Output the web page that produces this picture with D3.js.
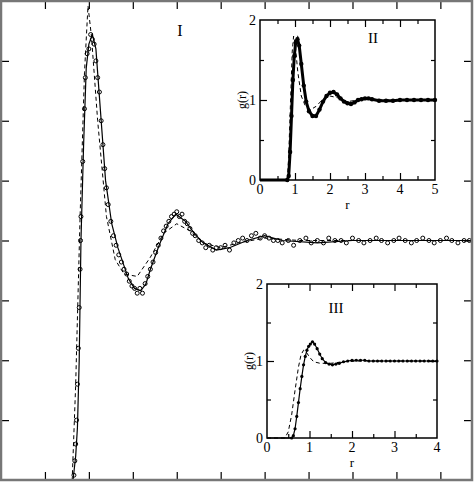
<!DOCTYPE html>
<html><head><meta charset="utf-8">
<script src="https://cdn.jsdelivr.net/npm/d3@7"></script>
<style>body{margin:0;background:#fff}svg{display:block}text{font-family:"Liberation Serif",serif;fill:#000}</style>
</head><body><svg id="c" width="474" height="482"></svg>
<script>
// ---- Main panel (I) ----
const mainSolid = [[0,0],[0.82,0],[0.85,0.1],[0.87,0.22],[0.89,0.5],[0.91,1.0],[0.94,1.4],[0.97,1.72],[1.0,1.82],[1.04,1.86],[1.08,1.8],[1.13,1.55],[1.19,1.25],[1.26,1.07],[1.33,0.97],[1.45,0.84],[1.52,0.8],[1.59,0.79],[1.65,0.82],[1.7,0.88],[1.8,0.98],[1.9,1.07],[1.99,1.11],[2.1,1.08],[2.2,1.03],[2.3,0.99],[2.45,0.96],[2.6,0.97],[2.8,1.0],[3.0,1.02],[3.2,1.0],[3.6,0.99],[4.0,1.0],[4.5,1.0],[5.36,1.0]];
const mainDashed = [[0,0],[0.81,0],[0.85,0.4],[0.9,1.1],[0.95,1.7],[0.99,1.98],[1.03,1.85],[1.1,1.5],[1.2,1.1],[1.3,0.92],[1.4,0.86],[1.55,0.85],[1.7,0.93],[1.85,1.03],[2.0,1.07],[2.15,1.04],[2.3,0.99],[2.5,0.97],[2.7,0.99],[3.0,1.01],[3.4,1.0],[5.36,1.0]];
const mainCircles = [[0.83,0.02],[0.84,0.08],[0.85,0.15],[0.86,0.25],[0.87,0.4],[0.88,0.55],[0.89,0.72],[0.9,0.88],[0.905,1.0],[0.91,1.1],[0.93,1.33],[0.95,1.55],[0.96,1.68],[0.98,1.78],[1.0,1.8],[1.02,1.86],[1.04,1.84],[1.06,1.82],[1.08,1.75],[1.1,1.68],[1.12,1.62],[1.14,1.5],[1.16,1.4],[1.18,1.3],[1.2,1.22],[1.22,1.15],[1.25,1.08],[1.28,1.02],[1.31,0.98],[1.34,0.94],[1.37,0.91],[1.4,0.88],[1.43,0.86],[1.46,0.83],[1.49,0.81],[1.52,0.8],[1.55,0.78],[1.58,0.8],[1.61,0.78],[1.64,0.82],[1.67,0.85],[1.7,0.88],[1.73,0.91],[1.76,0.95],[1.79,0.98],[1.82,1.01],[1.85,1.04],[1.88,1.06],[1.91,1.08],[1.94,1.1],[1.97,1.11],[2.0,1.12],[2.03,1.1],[2.06,1.11],[2.09,1.08],[2.12,1.07],[2.15,1.05],[2.18,1.03],[2.21,1.02],[2.25,1.0],[2.29,0.99],[2.33,0.97],[2.37,0.98],[2.41,0.96],[2.45,0.97],[2.5,0.97],[2.55,0.98],[2.6,0.96],[2.65,0.99],[2.7,1.0],[2.75,1.01],[2.8,1.0],[2.85,1.02],[2.9,1.03],[2.95,1.01],[3.0,1.02],[3.05,1.01],[3.1,1.0],[3.15,1.0],[3.2,0.99],[3.27,1.0],[3.33,0.98],[3.4,1.0],[3.47,1.01],[3.53,0.99],[3.6,1.0],[3.67,0.99],[3.73,1.01],[3.8,1.0],[3.87,1.0],[3.93,0.99],[4.0,1.01],[4.07,1.0],[4.13,0.99],[4.2,1.0],[4.27,1.01],[4.33,1.0],[4.4,0.99],[4.47,1.0],[4.53,1.01],[4.6,1.0],[4.67,0.99],[4.73,1.0],[4.8,1.01],[4.87,1.0],[4.93,0.99],[5.0,1.0],[5.07,1.01],[5.13,1.0],[5.2,0.99],[5.27,1.0],[5.33,1.0]];
// ---- Inset II ----
const iiSolid = [[0,0],[0.78,0],[0.82,0.05],[0.86,0.35],[0.9,0.8],[0.94,1.25],[0.98,1.55],[1.02,1.72],[1.07,1.76],[1.12,1.68],[1.18,1.45],[1.25,1.18],[1.32,0.98],[1.4,0.86],[1.5,0.8],[1.6,0.8],[1.7,0.88],[1.8,0.98],[1.9,1.05],[2.0,1.09],[2.1,1.1],[2.2,1.07],[2.3,1.02],[2.4,0.98],[2.5,0.96],[2.6,0.95],[2.7,0.97],[2.8,1.0],[2.9,1.01],[3.0,1.02],[3.1,1.02],[3.2,1.01],[3.4,0.99],[3.6,0.99],[3.8,0.99],[4.0,1.0],[4.2,1.0],[4.4,1.0],[4.6,1.0],[4.8,1.0],[5.0,1.0]];
const iiDashed = [[0,0],[0.78,0],[0.82,0.3],[0.87,0.95],[0.92,1.6],[0.96,1.8],[1.0,1.72],[1.08,1.35],[1.18,1.05],[1.3,0.92],[1.45,0.88],[1.6,0.92],[1.8,1.01],[2.0,1.05],[2.2,1.03],[2.5,0.98],[2.8,1.0],[3.2,1.01],[4.0,1.0],[5.0,1.0]];
// ---- Inset III ----
const iiiSolid = [[0,0],[0.58,0],[0.62,0.03],[0.66,0.12],[0.7,0.28],[0.74,0.46],[0.78,0.64],[0.82,0.8],[0.86,0.95],[0.9,1.06],[0.94,1.14],[0.98,1.19],[1.02,1.22],[1.07,1.25],[1.12,1.22],[1.18,1.16],[1.24,1.09],[1.3,1.03],[1.38,0.98],[1.46,0.96],[1.54,0.95],[1.62,0.96],[1.7,0.97],[1.8,0.99],[1.9,1.0],[2.0,1.01],[2.1,1.01],[2.2,1.01],[2.3,1.01],[2.4,1.0],[2.5,1.0],[2.6,1.0],[2.7,1.0],[2.8,1.0],[2.9,1.0],[3.0,1.0],[3.1,1.0],[3.2,1.0],[3.3,1.0],[3.4,1.0],[3.5,1.0],[3.6,1.0],[3.7,1.0],[3.8,1.0],[3.9,1.0],[4.0,1.0]];
const iiiDashed = [[0,0],[0.42,0],[0.5,0.08],[0.58,0.3],[0.66,0.62],[0.74,0.92],[0.8,1.08],[0.86,1.14],[0.92,1.12],[1.0,1.05],[1.1,0.99],[1.25,0.97],[1.5,0.97],[1.8,0.99],[2.2,1.0],[4.0,1.0]];
const labels = {main:"I", ii:"II", iii:"III", x:"r", y:"g(r)"};

const svg = d3.select("#c");
const line = (x,y)=>d3.line().x(d=>x(d[0])).y(d=>y(d[1]));

// Main panel
const mx = d3.scaleLinear().domain([0,5.36]).range([1,472]);
const my = d3.scaleLinear().domain([0,2]).range([480,1]);
const mg = svg.append("g");
mg.append("path").datum(mainDashed).attr("d",line(mx,my)).attr("fill","none").attr("stroke","#000").attr("stroke-width",1).attr("stroke-dasharray","4,3");
mg.append("path").datum(mainSolid).attr("d",line(mx,my)).attr("fill","none").attr("stroke","#000").attr("stroke-width",1.2);
mg.selectAll("circle").data(mainCircles).join("circle").attr("cx",d=>mx(d[0])).attr("cy",d=>my(d[1])).attr("r",2).attr("fill","none").attr("stroke","#000").attr("stroke-width",1);
const xt = d3.range(0.5,5.36,0.5), yt = d3.range(0.25,2,0.25);
mg.append("g").attr("transform","translate(0,1)").call(d3.axisBottom(mx).tickValues(xt).tickSize(8).tickFormat(""));
mg.append("g").attr("transform","translate(0,480)").call(d3.axisTop(mx).tickValues(xt).tickSize(8).tickFormat(""));
mg.append("g").attr("transform","translate(1,0)").call(d3.axisRight(my).tickValues(yt).tickSize(8).tickFormat(""));
mg.append("g").attr("transform","translate(472,0)").call(d3.axisLeft(my).tickValues(yt).tickSize(8).tickFormat(""));
mg.selectAll(".domain").remove();
mg.selectAll(".tick line").attr("stroke","#000").attr("stroke-width",1.2);
mg.append("rect").attr("x",1).attr("y",1).attr("width",471).attr("height",479).attr("fill","none").attr("stroke","#777").attr("stroke-width",2.5);
mg.append("text").attr("x",180).attr("y",36).attr("text-anchor","middle").attr("font-size",16).text(labels.main);

function inset(x0,y0,w,h,xmax,solid,dashed,title,tx,ty,thick){
  const x = d3.scaleLinear().domain([0,xmax]).range([x0,x0+w]);
  const y = d3.scaleLinear().domain([0,2]).range([y0+h,y0]);
  const g = svg.append("g");
  g.append("rect").attr("x",x0).attr("y",y0).attr("width",w).attr("height",h).attr("fill","#fff");
  g.append("path").datum(dashed).attr("d",line(x,y)).attr("fill","none").attr("stroke","#000").attr("stroke-width",1).attr("stroke-dasharray","4,3");
  g.append("path").datum(solid).attr("d",line(x,y)).attr("fill","none").attr("stroke","#000").attr("stroke-width",thick);
  g.selectAll("circle").data(solid.filter(d=>d[0]>0)).join("circle").attr("cx",d=>x(d[0])).attr("cy",d=>y(d[1])).attr("r",thick>2?2.2:1.6).attr("fill","#000");
  const maj = d3.range(1,xmax,1), mn = d3.range(0.5,xmax,1);
  const ymaj=[1], ymn=[0.5,1.5];
  const ax = (axis,tr,vals,sz)=>{const a=g.append("g").attr("transform",tr).call(axis.tickValues(vals).tickSize(sz).tickFormat(""));a.select(".domain").remove();a.selectAll("line").attr("stroke","#000").attr("stroke-width",1.2);};
  [[maj,7],[mn,4]].forEach(([v,s])=>{ax(d3.axisTop(x),`translate(0,${y0+h})`,v,s);ax(d3.axisBottom(x),`translate(0,${y0})`,v,s);});
  [[ymaj,7],[ymn,4]].forEach(([v,s])=>{ax(d3.axisRight(y),`translate(${x0},0)`,v,s);ax(d3.axisLeft(y),`translate(${x0+w},0)`,v,s);});
  g.append("rect").attr("x",x0).attr("y",y0).attr("width",w).attr("height",h).attr("fill","none").attr("stroke","#000").attr("stroke-width",1.5);
  d3.range(0,xmax+1).forEach(v=>g.append("text").attr("x",x(v)).attr("y",y0+h+14).attr("text-anchor","middle").attr("font-size",14).text(v));
  [0,1,2].forEach(v=>g.append("text").attr("x",x0-4).attr("y",y(v)+5).attr("text-anchor","end").attr("font-size",14).text(v));
  g.append("text").attr("x",x0+w/2).attr("y",y0+h+29).attr("text-anchor","middle").attr("font-size",13).text(labels.x);
  g.append("text").attr("transform",`translate(${x0-14},${y0+h/2}) rotate(-90)`).attr("text-anchor","middle").attr("font-size",12).text(labels.y);
  g.append("text").attr("x",tx).attr("y",ty).attr("text-anchor","middle").attr("font-size",15).text(title);
}
inset(260,20,175,160,5,iiSolid,iiDashed,labels.ii,373,43,3);
inset(267,284,170,154,4,iiiSolid,iiiDashed,labels.iii,336,313,1.2);
</script></body></html>
